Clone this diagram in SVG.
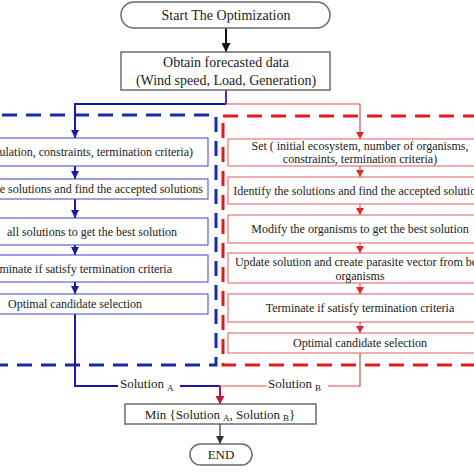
<svg xmlns="http://www.w3.org/2000/svg" width="474" height="474" viewBox="0 0 474 474">
<style>
text{font-family:"Liberation Serif","Times New Roman",serif;fill:#222}
.t14{font-size:14px}
.t12{font-size:12px}
.t13{font-size:13px}
.sub{font-size:9px}
.gbox{fill:#fff;stroke:#6b6b6b;stroke-width:1.5}
.bbox{fill:#fff;stroke:#5050cc;stroke-width:1.1}
.rbox{fill:#fff;stroke:#e26a6a;stroke-width:1.1}
.bdash{fill:none;stroke:#1b2aa8;stroke-width:3;stroke-dasharray:15 9}
.rdash{fill:none;stroke:#e51a1f;stroke-width:3;stroke-dasharray:15 9}
.bl{fill:none;stroke:#1a1aa0;stroke-width:2}
.rl{fill:none;stroke:#e44a4a;stroke-width:1.2}
</style>
<defs>
<marker id="ab" markerWidth="8" markerHeight="8" refX="8" refY="4" orient="auto" markerUnits="userSpaceOnUse"><path d="M0,0 L8,4 L0,8 z" fill="#1a1aa0"/></marker>
<marker id="ar" markerWidth="7" markerHeight="8" refX="7" refY="4" orient="auto" markerUnits="userSpaceOnUse"><path d="M0,0 L7,4 L0,8 z" fill="#e02828"/></marker>
<marker id="ak" markerWidth="9" markerHeight="9" refX="9" refY="4.5" orient="auto" markerUnits="userSpaceOnUse"><path d="M0,0 L9,4.5 L0,9 z" fill="#111"/></marker>
<marker id="ac" markerWidth="8" markerHeight="9" refX="8" refY="4.5" orient="auto" markerUnits="userSpaceOnUse"><path d="M0,0 L8,4.5 L0,9 z" fill="#c8103c"/></marker>
<marker id="ag" markerWidth="8" markerHeight="8" refX="8" refY="4" orient="auto" markerUnits="userSpaceOnUse"><path d="M0,0 L8,4 L0,8 z" fill="#333"/></marker>
</defs>

<rect class="bdash" x="-70" y="115" width="286" height="250"/>
<rect class="rdash" x="223" y="116" width="290" height="249"/>

<g id="connectors">
<path d="M226,28 V52" stroke="#111" stroke-width="2" fill="none" marker-end="url(#ak)"/>
<path d="M226,90 V104" stroke="#6a2a8a" stroke-width="2" fill="none"/>
<path class="bl" d="M226,104 H75 V138" marker-end="url(#ab)"/>
<path class="bl" d="M75,166 V179" marker-end="url(#ab)"/>
<path class="bl" d="M75,199 V218" marker-end="url(#ab)"/>
<path class="bl" d="M75,245 V255" marker-end="url(#ab)"/>
<path class="bl" d="M75,282 V294" marker-end="url(#ab)"/>
<path class="bl" d="M75,314 V386 H118"/>
<path class="bl" d="M180,386 H220"/>
<path class="rl" d="M226,104 H360 V139" marker-end="url(#ar)"/>
<path class="rl" d="M360,166 V177" marker-end="url(#ar)"/>
<path class="rl" d="M360,204 V215" marker-end="url(#ar)"/>
<path class="rl" d="M360,243 V253" marker-end="url(#ar)"/>
<path class="rl" d="M360,283 V294" marker-end="url(#ar)"/>
<path class="rl" d="M360,322 V333" marker-end="url(#ar)"/>
<path class="rl" d="M360,353 V386 H328"/>
<path class="rl" d="M267,386 H220"/>
<path d="M220,386 V404" stroke="#c8103c" stroke-width="2" fill="none" marker-end="url(#ac)"/>
<path d="M220,424 V444" stroke="#555" stroke-width="1.5" fill="none" marker-end="url(#ag)"/>
<text class="t13" x="120" y="388">Solution<tspan class="sub" dx="3" dy="3">A</tspan></text>
<text class="t13" x="268" y="388">Solution<tspan class="sub" dx="3" dy="3">B</tspan></text>
</g>

<g id="start">
<rect class="gbox" x="121" y="2" width="209" height="26" rx="13"/>
<text class="t14" x="226" y="20" text-anchor="middle">Start The Optimization</text>
</g>

<g id="obtain">
<rect class="gbox" x="121" y="52" width="209" height="38"/>
<text class="t14" x="226" y="67" text-anchor="middle">Obtain forecasted data</text>
<text class="t14" x="226" y="85" text-anchor="middle">(Wind speed, Load, Generation)</text>
</g>

<g id="blue1">
<rect class="bbox" x="-60" y="138" width="268" height="28"/>
<text class="t12" x="193" y="156" text-anchor="end">ulation, constraints, termination criteria)</text>
</g>
<g id="blue2">
<rect class="bbox" x="-60" y="179" width="268" height="20"/>
<text class="t12" x="203" y="193" text-anchor="end">e solutions and find the accepted solutions</text>
</g>
<g id="blue3">
<rect class="bbox" x="-60" y="218" width="268" height="27"/>
<text class="t12" x="177" y="236" text-anchor="end">all solutions to get the best solution</text>
</g>
<g id="blue4">
<rect class="bbox" x="-60" y="255" width="268" height="27"/>
<text class="t12" x="172" y="273" text-anchor="end">minate if satisfy termination criteria</text>
</g>
<g id="blue5">
<rect class="bbox" x="-60" y="294" width="268" height="20"/>
<text class="t12" x="75" y="308" text-anchor="middle">Optimal candidate selection</text>
</g>

<g id="red1">
<rect class="rbox" x="228" y="139" width="270" height="27"/>
<text class="t12" x="360" y="150" text-anchor="middle">Set ( initial ecosystem, number of organisms,</text>
<text class="t12" x="360" y="163" text-anchor="middle">constraints, termination criteria)</text>
</g>
<g id="red2">
<rect class="rbox" x="228" y="177" width="270" height="27"/>
<text class="t12" x="360" y="195" text-anchor="middle">Identify the solutions and find the accepted solutions</text>
</g>
<g id="red3">
<rect class="rbox" x="228" y="215" width="270" height="28"/>
<text class="t12" x="360" y="233" text-anchor="middle">Modify the organisms to get the best solution</text>
</g>
<g id="red4">
<rect class="rbox" x="228" y="253" width="270" height="30"/>
<text class="t12" x="360" y="266" text-anchor="middle">Update solution and create parasite vector from best</text>
<text class="t12" x="360" y="280" text-anchor="middle">organisms</text>
</g>
<g id="red5">
<rect class="rbox" x="228" y="294" width="270" height="28"/>
<text class="t12" x="360" y="312" text-anchor="middle">Terminate if satisfy termination criteria</text>
</g>
<g id="red6">
<rect class="rbox" x="228" y="333" width="270" height="20"/>
<text class="t12" x="360" y="347" text-anchor="middle">Optimal candidate selection</text>
</g>

<g id="min">
<rect class="gbox" x="125" y="404" width="191" height="20"/>
<text class="t13" x="220" y="419" text-anchor="middle">Min {Solution<tspan class="sub" dx="3" dy="2">A</tspan><tspan dy="-2">, Solution</tspan><tspan class="sub" dx="3" dy="2">B</tspan><tspan dy="-2">}</tspan></text>
</g>

<g id="end">
<rect class="gbox" x="190" y="444" width="62" height="21" rx="10.5"/>
<text class="t13" x="221" y="459" text-anchor="middle">END</text>
</g>
</svg>
